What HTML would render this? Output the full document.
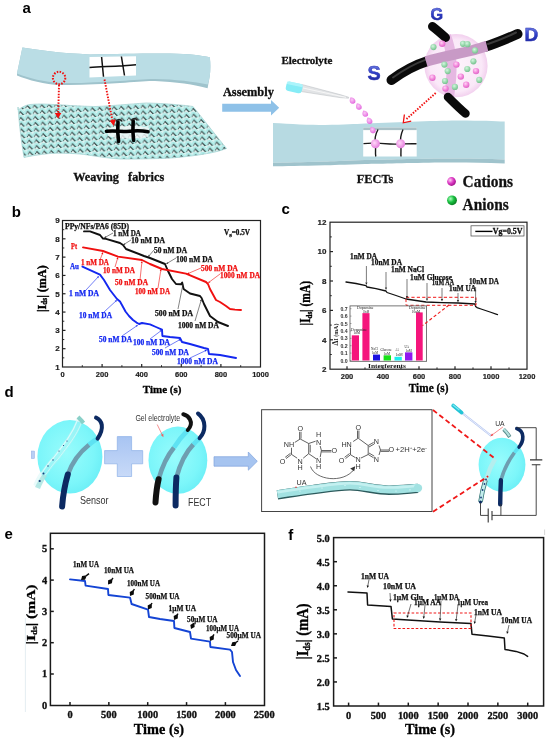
<!DOCTYPE html><html><head><meta charset="utf-8"><style>html,body{margin:0;padding:0;background:#fff;}svg{display:block;}</style></head><body>
<svg width="550" height="744" viewBox="0 0 550 744">
<rect width="550" height="744" fill="#fff"/>
<defs>
<pattern id="knit" width="7.2" height="5.8" patternUnits="userSpaceOnUse" patternTransform="rotate(-3)">
<rect width="7.2" height="5.8" fill="#e0f2f0"/>
<path d="M0.3,2.3 L3.1,5.5" stroke="#243030" stroke-width="1.6" stroke-linecap="round"/>
<path d="M0.9,0.8 L4.0,4.3" stroke="#a4e6e2" stroke-width="2.6" stroke-linecap="round"/>
<path d="M7.0,2.3 L5.6,4.5" stroke="#3a4848" stroke-width="1.1" stroke-linecap="round"/>
<path d="M6.5,0.7 L4.7,3.6" stroke="#b2ebe8" stroke-width="2.3" stroke-linecap="round"/>
<path d="M1.1,0.3 L3.9,3.4" stroke="#f0ffff" stroke-width="0.5"/>
</pattern>
<radialGradient id="pinkball" cx="0.35" cy="0.35" r="0.7"><stop offset="0" stop-color="#ffd0f4"/><stop offset="0.5" stop-color="#e040c8"/><stop offset="1" stop-color="#a0108a"/></radialGradient>
<radialGradient id="greenball" cx="0.35" cy="0.35" r="0.7"><stop offset="0" stop-color="#b0ffc0"/><stop offset="0.5" stop-color="#18c040"/><stop offset="1" stop-color="#0a7a20"/></radialGradient>
<radialGradient id="gb2" cx="0.4" cy="0.35" r="0.65"><stop offset="0" stop-color="#d4f6e0"/><stop offset="0.6" stop-color="#98d8ac"/><stop offset="1" stop-color="#78c090"/></radialGradient>
<radialGradient id="pb2" cx="0.4" cy="0.35" r="0.65"><stop offset="0" stop-color="#ffd4f6"/><stop offset="0.6" stop-color="#f286da"/><stop offset="1" stop-color="#e066c8"/></radialGradient>
<radialGradient id="pdrop2" cx="0.4" cy="0.4" r="0.7"><stop offset="0" stop-color="#fbc8f6"/><stop offset="1" stop-color="#e060dc"/></radialGradient>
<radialGradient id="pdrop" cx="0.4" cy="0.4" r="0.7"><stop offset="0" stop-color="#ffd8f8"/><stop offset="1" stop-color="#e070d8"/></radialGradient>
<radialGradient id="gsph" cx="0.5" cy="0.5" r="0.5"><stop offset="0" stop-color="#fdf4fc"/><stop offset="0.82" stop-color="#fae8f8"/><stop offset="1" stop-color="#f2d0ee"/></radialGradient>
<linearGradient id="sdlet" x1="0" y1="0" x2="0" y2="1"><stop offset="0" stop-color="#8a9cf0"/><stop offset="0.5" stop-color="#3040c8"/><stop offset="1" stop-color="#1a2490"/></linearGradient>
</defs>
<path d="M22.4,47.6 C40,50 60,53.5 90,54.4 C120,54 150,53.2 170,53.6 C190,54 200,55.5 209.8,57.2 C210.6,63 210.6,70 209.8,76 L207.6,88.2 C195,84.6 175,81.8 155,81 C145,80.8 135,82 120,83 C100,84 80,85.4 60,84.9 C45,84.4 28,80 17,75.4 L17,73.6 Z" fill="#9fc3cc"/>
<path d="M22.4,47.6 C40,50 60,53.5 90,54.4 C120,54 150,53.2 170,53.6 C190,54 200,55.5 209.8,57.2 C210.6,63 210.6,70 209.8,76 C209.3,79 208.6,82 207.6,84.6 C195,81.5 175,79.3 155,78.9 C145,78.8 135,80 120,81 C100,82 80,83.5 60,83 C45,82.5 28,78 17,73.6 Z" fill="#badde5"/>
<polygon points="89.5,57.1 136,56.2 136,75.5 89.5,77.4" fill="#fff"/>
<path d="M89.5,67.6 C105,66.6 120,66 136,64.7 M101.6,57 L103.5,76.8 M121.4,56.5 L124.5,75.5" stroke="#111" stroke-width="1.5" fill="none"/>
<path d="M18,110 C22,107 26,105 30,104.5 C36,104 40,104 43,104 C55,104.5 65,105 70,105.5 C80,106 90,106.5 96,106.5 C110,106 130,104 146,103 C160,103.3 170,104 180,105 C186,105.5 190,106 193,106.5 L226.5,148.5 C217,152 210,153 204.6,154 C190,156.5 170,158.5 157,158.6 C140,159 130,159.3 120,159 C100,157.5 90,155 80,154 C65,153 55,153 50,153.5 C40,154.5 30,156 24,157.5 C21,140 19,122 18,107 Z" fill="url(#knit)"/>
<path d="M18,110 C22,107 26,105 30,104.5 C36,104 40,104 43,104 C55,104.5 65,105 70,105.5 C80,106 90,106.5 96,106.5 C110,106 130,104 146,103 C160,103.3 170,104 180,105 C186,105.5 190,106 193,106.5 L226.5,148.5 C217,152 210,153 204.6,154 C190,156.5 170,158.5 157,158.6 C140,159 130,159.3 120,159 C100,157.5 90,155 80,154 C65,153 55,153 50,153.5 C40,154.5 30,156 24,157.5 C21,140 19,122 18,107 Z" fill="none" stroke="#a8d6d6" stroke-width="0.8"/>
<path d="M108,128 C115,126 140,125 149,128 L148,137 C140,139 115,139 108,136 Z" fill="#f4f8f8" opacity="0.8"/>
<g stroke="#000" stroke-linecap="round" fill="none"><path d="M106.5,131.3 C115,130 125,132.5 133,131 C139,130.2 144,131 148,131.8" stroke-width="3.6"/><path d="M118,122 C117.5,128 117.6,135 118.6,141.4" stroke-width="3.6"/><path d="M133.2,121 C132.7,127 132.8,134 133.6,140.4" stroke-width="3.6"/></g>
<path d="M116,121.5 C117,119 121,118.8 122,121.5 M131.4,120.5 C132.4,118 136.4,117.8 137.4,120.5" stroke="#222" stroke-width="1.8" fill="none"/>
<circle cx="59.1" cy="78" r="6.2" fill="none" stroke="#f01010" stroke-width="2" stroke-dasharray="1.5,1.4"/>
<path d="M59,85 L58.2,114" stroke="#f01010" stroke-width="1.9" fill="none" stroke-dasharray="1.5,1.4"/>
<polygon points="54.8,113 61.4,113 58.1,118.5" fill="#f01010"/>
<path d="M104.5,79.5 L112.5,121" stroke="#f01010" stroke-width="1.9" fill="none" stroke-dasharray="1.5,1.4"/>
<polygon points="109.6,120.5 115.8,119.4 113.8,126" fill="#f01010"/>
<text x="73.2" y="180.6" font-family="'Liberation Serif', 'Times New Roman', serif" font-size="12.4" font-weight="bold" fill="#111" text-anchor="start" textLength="91" lengthAdjust="spacingAndGlyphs" stroke="#111" stroke-width="0.3">Weaving&#160;&#160;&#160;fabrics</text>
<text x="222.9" y="95.6" font-family="'Liberation Serif', 'Times New Roman', serif" font-size="12" font-weight="bold" fill="#111" text-anchor="start" textLength="51" lengthAdjust="spacingAndGlyphs" stroke="#111" stroke-width="0.3">Assembly</text>
<polygon points="222.2,103.8 271,103.8 271,100 279.2,107.7 271,115.5 271,111.7 222.2,111.7" fill="#8ec1e8"/>
<path d="M273,123 C290,124 310,125 325,125 C345,125 355,124 365,123.6 C400,122 440,120.5 460,120.5 C480,120.6 495,121 504.7,121.6 L504.7,159.5 C480,158.5 460,158.3 440,158.6 C410,159 380,160 365,160 C345,160.5 330,161.5 325,161.5 C300,162.3 285,162.5 273,162.8 Z" fill="#b7dae2"/>
<path d="M273,162.8 C285,162.5 300,162.3 325,161.5 C330,161.5 345,160.5 365,160 C380,160 410,159 440,158.6 C460,158.3 480,158.5 504.7,159.5 L504.7,163.6 C480,162.6 460,162.3 440,162.6 C410,163 380,164 365,164 C345,164.5 330,165.3 325,165.3 C300,166 285,166.2 273,166.3 Z" fill="#9fc3cc"/>
<rect x="363.2" y="127.5" width="53.5" height="29" fill="#fff"/>
<rect x="363.2" y="127.5" width="53.5" height="2.6" fill="#a9c0c6"/>
<g stroke="#1a1a1a" stroke-width="1.4" fill="none"><path d="M363.5,143.6 C370,142.8 380,143.2 390,144 C398,144.5 408,143.4 416.5,143.8"/><path d="M378,129.5 C375.5,134 374.5,139 375.4,144 C376,149 375,153 375.8,156.5"/><path d="M403,129.5 C401,134 400,139 400.8,144 C401.4,149 400.6,153 401,156.5"/></g>
<circle cx="375.4" cy="143.8" r="4.5" fill="url(#pdrop)"/><circle cx="400.6" cy="143.8" r="4.5" fill="url(#pdrop)"/>
<text x="356.8" y="183.4" font-family="'Liberation Serif', 'Times New Roman', serif" font-size="12.8" font-weight="bold" fill="#111" text-anchor="start" textLength="36.5" lengthAdjust="spacingAndGlyphs" stroke="#111" stroke-width="0.3">FECTs</text>
<text x="281.4" y="63.6" font-family="'Liberation Serif', 'Times New Roman', serif" font-size="11" font-weight="bold" fill="#111" text-anchor="start" textLength="51" lengthAdjust="spacingAndGlyphs" stroke="#111" stroke-width="0.3">Electrolyte</text>
<polygon points="301.5,84.4 340,94.6 348.6,97.2 348.6,98.2 340,97.6 301.5,91.6" fill="#e2e4e6" stroke="#b4b8bc" stroke-width="0.5"/>
<path d="M303,88 L346,97.4" stroke="#f8f8f8" stroke-width="0.9"/>
<g transform="rotate(12 294 87.3)"><rect x="286" y="82.6" width="16.4" height="9.6" rx="3.2" fill="#86ecf6"/><rect x="286" y="82.6" width="16.4" height="3" rx="1.5" fill="#b4f6fc" opacity="0.8"/></g>
<path transform="translate(352.7,100.6) scale(1.3)" d="M-1.6,-2.6 C1,-2.4 2.6,-0.5 2,1.2 C1.4,2.8 -1.6,2.8 -2.2,0.8 C-2.6,-0.6 -2,-1.6 -1.6,-2.6 Z" fill="url(#pdrop2)"/>
<path transform="translate(359,106.7) scale(1.3)" d="M-1.6,-2.6 C1,-2.4 2.6,-0.5 2,1.2 C1.4,2.8 -1.6,2.8 -2.2,0.8 C-2.6,-0.6 -2,-1.6 -1.6,-2.6 Z" fill="url(#pdrop2)"/>
<path transform="translate(365.4,113.8) scale(1.3)" d="M-1.6,-2.6 C1,-2.4 2.6,-0.5 2,1.2 C1.4,2.8 -1.6,2.8 -2.2,0.8 C-2.6,-0.6 -2,-1.6 -1.6,-2.6 Z" fill="url(#pdrop2)"/>
<path transform="translate(369.7,121) scale(1.3)" d="M-1.6,-2.6 C1,-2.4 2.6,-0.5 2,1.2 C1.4,2.8 -1.6,2.8 -2.2,0.8 C-2.6,-0.6 -2,-1.6 -1.6,-2.6 Z" fill="url(#pdrop2)"/>
<path transform="translate(373,130.2) scale(1.3)" d="M-1.6,-2.6 C1,-2.4 2.6,-0.5 2,1.2 C1.4,2.8 -1.6,2.8 -2.2,0.8 C-2.6,-0.6 -2,-1.6 -1.6,-2.6 Z" fill="url(#pdrop2)"/>
<circle cx="456" cy="65.7" r="31.6" fill="url(#gsph)"/>
<path d="M446,36 C452,50 453,72 449,97" stroke="#e6b8e2" stroke-width="10" fill="none"/>
<path d="M432.5,26.5 C437,30 441,33.5 445.5,37.5" stroke="#0a0a0a" stroke-width="9" stroke-linecap="round" fill="none"/>
<path d="M448,97 C454,103 460,109 465.5,113.5" stroke="#0a0a0a" stroke-width="8.5" stroke-linecap="round" fill="none"/>
<path d="M391.5,80 C399,74.5 412,66 427,61.3" stroke="#0a0a0a" stroke-width="10" stroke-linecap="round" fill="none"/>
<path d="M486,46.5 C495,43.5 505,39.5 517.5,34" stroke="#0a0a0a" stroke-width="10" stroke-linecap="round" fill="none"/>
<path d="M393,77.5 C400,72.5 412,64.5 426,59.6" stroke="#3a3a3a" stroke-width="2" stroke-linecap="round" fill="none"/>
<path d="M488,44 C497,41 506,37.5 516,32.5" stroke="#3a3a3a" stroke-width="2" stroke-linecap="round" fill="none"/>
<path d="M426,61.5 C440,57.5 455,54.5 470,51 C476,49.5 482,47.5 487,46.2" stroke="#c89ac6" stroke-width="10.5" fill="none"/>
<circle cx="433.5" cy="47.1" r="3.1" fill="url(#gb2)"/>
<circle cx="463" cy="43.8" r="3.1" fill="url(#gb2)"/>
<circle cx="475" cy="50.4" r="3.1" fill="url(#gb2)"/>
<circle cx="444.4" cy="64.6" r="3.1" fill="url(#gb2)"/>
<circle cx="447.7" cy="71.1" r="3.1" fill="url(#gb2)"/>
<circle cx="473.4" cy="61.3" r="3.1" fill="url(#gb2)"/>
<circle cx="467.3" cy="69" r="3.1" fill="url(#gb2)"/>
<circle cx="479.3" cy="79.9" r="3.1" fill="url(#gb2)"/>
<circle cx="445" cy="81" r="3.1" fill="url(#gb2)"/>
<circle cx="454.9" cy="86.9" r="3.1" fill="url(#gb2)"/>
<circle cx="467.5" cy="44.2" r="3.1" fill="url(#gb2)"/>
<circle cx="442.2" cy="43.8" r="3.2" fill="url(#pb2)"/>
<circle cx="456.4" cy="64.6" r="3.2" fill="url(#pb2)"/>
<circle cx="476" cy="71.1" r="3.2" fill="url(#pb2)"/>
<circle cx="432.4" cy="77.7" r="3.2" fill="url(#pb2)"/>
<circle cx="460.8" cy="76.6" r="3.2" fill="url(#pb2)"/>
<circle cx="466.2" cy="84.7" r="3.2" fill="url(#pb2)"/>
<circle cx="445.5" cy="88.6" r="3.2" fill="url(#pb2)"/>
<text x="430.6" y="20" font-family="'Liberation Sans', Arial, sans-serif" font-size="16.2" font-weight="bold" fill="url(#sdlet)" stroke="#2a30b0" stroke-width="0.5">G</text>
<text x="524.6" y="41.2" font-family="'Liberation Sans', Arial, sans-serif" font-size="19" font-weight="bold" fill="url(#sdlet)" stroke="#2a30b0" stroke-width="0.5">D</text>
<text x="367.6" y="79.6" font-family="'Liberation Sans', Arial, sans-serif" font-size="19.8" font-weight="bold" fill="url(#sdlet)" stroke="#2a30b0" stroke-width="0.5">S</text>
<path d="M435.7,93 L406.5,119" stroke="#f01010" stroke-width="1.9" fill="none" stroke-dasharray="1.5,1.4"/>
<path d="M404.4,114.5 L403.3,122.8 L411.2,121.2" stroke="#f01010" stroke-width="1.3" fill="none"/>
<circle cx="451.5" cy="181.5" r="4.4" fill="url(#pinkball)"/>
<circle cx="452" cy="200.3" r="4.9" fill="url(#greenball)"/>
<text x="462.6" y="187.2" font-family="'Liberation Serif', 'Times New Roman', serif" font-size="16" font-weight="bold" fill="#111" text-anchor="start" textLength="50.4" lengthAdjust="spacingAndGlyphs" stroke="#111" stroke-width="0.3">Cations</text>
<text x="462.6" y="210" font-family="'Liberation Serif', 'Times New Roman', serif" font-size="16" font-weight="bold" fill="#111" text-anchor="start" textLength="46.2" lengthAdjust="spacingAndGlyphs" stroke="#111" stroke-width="0.3">Anions</text>
<defs>
<radialGradient id="cyansph" cx="0.45" cy="0.45" r="0.6"><stop offset="0" stop-color="#98fcfc"/><stop offset="0.7" stop-color="#7cf6fa"/><stop offset="1" stop-color="#6aeef6"/></radialGradient>
<linearGradient id="plusg" x1="0" y1="0" x2="0" y2="1"><stop offset="0" stop-color="#a8c4f2"/><stop offset="1" stop-color="#c8daf8"/></linearGradient>
</defs>
<ellipse cx="69.9" cy="456.8" rx="32.5" ry="36.7" fill="url(#cyansph)"/>
<path d="M36.6,486 C39,480 42,475 45,471.8 C49,466 52,462 56,458 C61,451.5 66,445 69.8,439.4 C73.5,434 77,428 80.6,418.5" stroke="#c4f2f0" stroke-width="7" fill="none" opacity="0.35"/>
<path d="M36.6,486 C39,480 42,475 45,471.8 C49,466 52,462 56,458 C61,451.5 66,445 69.8,439.4 C73.5,434 77,428 80.6,418.5" stroke="#e8fcfc" stroke-width="1.2" fill="none" opacity="0.8" transform="translate(-2.2,-0.5)"/>
<path d="M36.6,486 C39,480 42,475 45,471.8 C49,466 52,462 56,458 C61,451.5 66,445 69.8,439.4 C73.5,434 77,428 80.6,418.5" stroke="#e8fcfc" stroke-width="1.0" fill="none" opacity="0.6" transform="translate(2.2,0.8)"/>
<path d="M35,487 C37.5,482 40,478 43,473.5 L47,476 C44,480 42,484 40,489 Z" fill="#a8e4e0" opacity="0.8"/>
<circle cx="39.7" cy="481" r="1.1" fill="#1a3a7a"/>
<circle cx="43.5" cy="473.4" r="1.0" fill="#1a3a7a"/>
<circle cx="48" cy="466" r="0.7" fill="#1a3a7a"/>
<circle cx="53" cy="460" r="0.7" fill="#1a3a7a"/>
<circle cx="59" cy="451" r="0.6" fill="#1a3a7a"/>
<circle cx="63.5" cy="445.5" r="0.6" fill="#1a3a7a"/>
<circle cx="67" cy="441" r="0.6" fill="#1a3a7a"/>
<path d="M78,417 C80,419 82,421 83.5,423" stroke="#8ad0c8" stroke-width="4" fill="none"/>
<path d="M67.8,474.5 C72,463 80,452 89.1,444.8" stroke="#6e9eb0" stroke-width="4.6" stroke-linecap="butt" fill="none"/>
<path d="M89,444.8 C92,442 95,440 97.6,438.6" stroke="#5ee2f2" stroke-width="4.6" stroke-linecap="butt" fill="none"/>
<path d="M62.1,506.6 C63,495 65,484 67.8,474.5" stroke="#0c2a62" stroke-width="6" stroke-linecap="round" fill="none"/>
<path d="M97.6,438.6 C100,435 102.5,430 101.8,425 C101,421 99,419 96,417.7" stroke="#0c2a62" stroke-width="4" stroke-linecap="round" fill="none"/>
<rect x="31.2" y="451" width="3.4" height="7.7" fill="#b8cff4" stroke="#8aa8e0" stroke-width="0.4"/>
<text x="79.9" y="504.3" font-family="'Liberation Sans', Arial, sans-serif" font-size="10.6" fill="#333" textLength="28.6" lengthAdjust="spacingAndGlyphs">Sensor</text>
<path d="M117.3,436.6 L131.6,436.6 L131.6,450.6 L142.7,450.6 L142.7,463.8 L131.6,463.8 L131.6,476.5 L117.3,476.5 L117.3,463.8 L104.6,463.8 L104.6,450.6 L117.3,450.6 Z" fill="url(#plusg)" stroke="#8cb0e8" stroke-width="0.7"/>
<ellipse cx="177.9" cy="460.2" rx="29.4" ry="33.6" fill="url(#cyansph)"/>
<path d="M158.6,479.2 C162,467 167,456 174,447.5" stroke="#6e9eb0" stroke-width="4.6" stroke-linecap="butt" fill="none"/>
<path d="M174,447.5 C178,441 183,435 187.6,430.5" stroke="#5ee2f2" stroke-width="4.6" stroke-linecap="butt" fill="none"/>
<path d="M155.5,502.4 C156,494 157,486 158.6,479.2" stroke="#111" stroke-width="6" stroke-linecap="round" fill="none"/>
<path d="M187.8,430 C190.5,427 192,423.5 190,419.5 C188.5,416.5 186,415 183.3,414.3" stroke="#111" stroke-width="4" stroke-linecap="round" fill="none"/>
<path d="M176.4,477.6 C180,464 186,452 193.4,444.4" stroke="#6e9eb0" stroke-width="4.6" stroke-linecap="butt" fill="none"/>
<path d="M193.4,444.4 C195.5,442 197.5,440 199.6,438.2" stroke="#5ee2f2" stroke-width="4.6" stroke-linecap="butt" fill="none"/>
<path d="M175.6,505.5 C175.6,496 175.8,486 176.4,477.6" stroke="#0c2a62" stroke-width="6" stroke-linecap="round" fill="none"/>
<path d="M199.6,438.2 C202.5,435 204.5,431 204.4,426 C204.2,421 201.5,416 198,413.5" stroke="#0c2a62" stroke-width="4" stroke-linecap="round" fill="none"/>
<text x="135.4" y="421" font-family="'Liberation Sans', Arial, sans-serif" font-size="8.4" fill="#333" textLength="44.8" lengthAdjust="spacingAndGlyphs">Gel electrolyte</text>
<path d="M157.2,424.5 L162.6,435.6" stroke="#f06060" stroke-width="0.7"/><polygon points="163.4,437.2 160.9,434.9 163.3,433.8" fill="#f06060"/>
<text x="188" y="505.5" font-family="'Liberation Sans', Arial, sans-serif" font-size="10.6" fill="#333" textLength="23.1" lengthAdjust="spacingAndGlyphs">FECT</text>
<path d="M214,456.7 L248.3,456.7 L248.3,452 L257.3,461.3 L248.3,470.2 L248.3,466.2 L214,466.2 Z" fill="#a6c4f0" stroke="#7fa4dc" stroke-width="0.7"/>
<rect x="261.6" y="409.7" width="170.4" height="101.8" fill="#fff" stroke="#444" stroke-width="1"/>
<path d="M299.6,431.8 L299.6,439 M301,431.8 L301,438.6 M300.2,439 L294.8,442.4 M291.5,447.8 L291.5,454.4 L286,458.6 M290.6,453.2 L285.2,457.3 M291.5,454.4 L297.2,458.2 M303.2,458.2 L308.7,453.7 L308.7,443.5 L300.2,439 M310.2,452.4 L310.2,444.8 M308.7,443.5 L315.6,441.2 M320.2,446 L321.4,450.5 L320.2,457.2 M316.2,458.8 L308.7,453.7 M321.4,450.5 L331.4,450.5 M321.4,451.9 L331.4,451.9" stroke="#3a3a3a" stroke-width="0.8" fill="none"/>
<text x="300.2" y="430.8" font-family="'Liberation Sans', Arial, sans-serif" font-size="7.2" fill="#333" text-anchor="middle">O</text>
<text x="289" y="447.4" font-family="'Liberation Sans', Arial, sans-serif" font-size="7.2" fill="#333" text-anchor="middle">NH</text>
<text x="282.6" y="464.4" font-family="'Liberation Sans', Arial, sans-serif" font-size="7.2" fill="#333" text-anchor="middle">O</text>
<text x="300.2" y="463.9" font-family="'Liberation Sans', Arial, sans-serif" font-size="7.2" fill="#333" text-anchor="middle">N</text>
<text x="300.2" y="470.3" font-family="'Liberation Sans', Arial, sans-serif" font-size="7.2" fill="#333" text-anchor="middle">H</text>
<text x="318.5" y="444.8" font-family="'Liberation Sans', Arial, sans-serif" font-size="7.2" fill="#333" text-anchor="middle">N</text>
<text x="318.5" y="436.5" font-family="'Liberation Sans', Arial, sans-serif" font-size="7.2" fill="#333" text-anchor="middle">H</text>
<text x="334.4" y="453.3" font-family="'Liberation Sans', Arial, sans-serif" font-size="7.2" fill="#333" text-anchor="middle">O</text>
<text x="318.5" y="462.6" font-family="'Liberation Sans', Arial, sans-serif" font-size="7.2" fill="#333" text-anchor="middle">N</text>
<text x="318.5" y="469" font-family="'Liberation Sans', Arial, sans-serif" font-size="7.2" fill="#333" text-anchor="middle">H</text>
<path d="M357.5,430.5 L357.5,438 M358.9,430.5 L358.9,438 M358.2,438.2 L353.2,441.5 M350.5,447.5 L350.5,454.7 L345.5,458.6 M349.6,453.5 L344.6,457.3 M350.5,454.7 L355.6,457.8 M361,458 L368.2,454.5 L368.2,445.5 L358.2,438.2 M368.2,445.5 L373.6,442.4 M369,447 L374.3,443.9 M379,445.5 L380.5,450 L379,455 M368.2,454.5 L373.6,457.8 M369,453 L374.3,456.2 M380.5,450 L389,450 M380.5,451.4 L389,451.4" stroke="#3a3a3a" stroke-width="0.8" fill="none"/>
<text x="358.2" y="429.6" font-family="'Liberation Sans', Arial, sans-serif" font-size="7.2" fill="#333" text-anchor="middle">O</text>
<text x="346.6" y="447" font-family="'Liberation Sans', Arial, sans-serif" font-size="7.2" fill="#333" text-anchor="middle">HN</text>
<text x="341.6" y="463.4" font-family="'Liberation Sans', Arial, sans-serif" font-size="7.2" fill="#333" text-anchor="middle">O</text>
<text x="358.2" y="462.3" font-family="'Liberation Sans', Arial, sans-serif" font-size="7.2" fill="#333" text-anchor="middle">N</text>
<text x="358.2" y="468.6" font-family="'Liberation Sans', Arial, sans-serif" font-size="7.2" fill="#333" text-anchor="middle">H</text>
<text x="376.4" y="444.1" font-family="'Liberation Sans', Arial, sans-serif" font-size="7.2" fill="#333" text-anchor="middle">N</text>
<text x="391.3" y="452.4" font-family="'Liberation Sans', Arial, sans-serif" font-size="7.2" fill="#333" text-anchor="middle">O</text>
<text x="376.4" y="462.3" font-family="'Liberation Sans', Arial, sans-serif" font-size="7.2" fill="#333" text-anchor="middle">N</text>
<text x="395.5" y="452.2" font-family="'Liberation Sans', Arial, sans-serif" font-size="7.4" fill="#333" textLength="31.3" lengthAdjust="spacingAndGlyphs">+2H<tspan font-size="4.4" dy="-2.8">+</tspan><tspan dy="2.8">+2e</tspan><tspan font-size="4.4" dy="-2.8">-</tspan></text>
<path d="M310.5,466.5 C315,480 343,484 354,469.5" stroke="#444" stroke-width="0.8" fill="none"/>
<polygon points="355.2,466.3 350.2,468.6 354.2,471.2" fill="#333"/>
<path d="M277.4,494.2 C292,492 300,490.6 311.4,489.2 C325,487.5 338,485.2 350,485.2 C363,485.4 376,489.6 389,489.6 C400,489.6 410,488.3 418,487.8" stroke="#2c5a5c" stroke-width="9.4" fill="none" transform="translate(0,0.6)"/>
<path d="M277.4,494.2 C292,492 300,490.6 311.4,489.2 C325,487.5 338,485.2 350,485.2 C363,485.4 376,489.6 389,489.6 C400,489.6 410,488.3 418,487.8" stroke="#a2e2e2" stroke-width="8" fill="none"/>
<path d="M277.4,494.2 C292,492 300,490.6 311.4,489.2 C325,487.5 338,485.2 350,485.2 C363,485.4 376,489.6 389,489.6 C400,489.6 410,488.3 418,487.8" stroke="#c4f0f0" stroke-width="2.5" fill="none" transform="translate(0,-2)"/>
<circle cx="418" cy="488.1" r="4.2" fill="#a2e2e2"/>
<circle cx="300" cy="491" r="0.6" fill="#eaffff"/>
<circle cx="322" cy="488" r="0.6" fill="#eaffff"/>
<circle cx="345" cy="485.5" r="0.6" fill="#eaffff"/>
<circle cx="360" cy="487.5" r="0.6" fill="#eaffff"/>
<circle cx="378" cy="490.5" r="0.6" fill="#eaffff"/>
<circle cx="396" cy="491" r="0.6" fill="#eaffff"/>
<circle cx="410" cy="489.8" r="0.6" fill="#eaffff"/>
<text x="296.6" y="485.3" font-family="'Liberation Sans', Arial, sans-serif" font-size="7.2" fill="#333">UA</text>
<circle cx="296" cy="487.3" r="0.7" fill="#f02020"/>
<ellipse cx="502" cy="464.8" rx="23.4" ry="27" fill="url(#cyansph)"/>
<path d="M480.5,501.5 C482,493 484,485 487,477 C489,470 492,464 495,459" stroke="#b8ecec" stroke-width="4.4" fill="none" opacity="0.9"/>
<path d="M480.5,502 C481.5,495 483,488 485.5,480" stroke="#3a7474" stroke-width="4.6" fill="none"/>
<path d="M480.5,502 C481.5,495 483,488 485.5,480" stroke="#c4eeee" stroke-width="3" fill="none"/>
<circle cx="481" cy="497.5" r="0.9" fill="#1a3a7a"/>
<circle cx="482.6" cy="490" r="0.9" fill="#1a3a7a"/>
<circle cx="484.5" cy="484" r="0.9" fill="#1a3a7a"/>
<circle cx="486" cy="479.5" r="0.9" fill="#1a3a7a"/>
<circle cx="480.5" cy="502" r="1.6" fill="#0c2a62"/>
<path d="M503.6,429.3 C506,431.5 508,434 509.8,437" stroke="#5a8c8c" stroke-width="3.6" fill="none"/>
<path d="M503.4,428.8 C505.8,431 507.8,433.5 509.4,436.2" stroke="#b4e0de" stroke-width="2.2" fill="none"/>
<path d="M500.9,480.3 C504,469 509,460 514.5,452.5" stroke="#6e9eb0" stroke-width="3.6" stroke-linecap="butt" fill="none"/>
<path d="M514.5,452.5 C516,450.5 517.5,448.8 519.1,447" stroke="#5ee2f2" stroke-width="3.6" stroke-linecap="butt" fill="none"/>
<path d="M500.2,504.2 C500.3,496 500.5,488 500.9,480.3" stroke="#0c2a62" stroke-width="4.4" stroke-linecap="round" fill="none"/>
<path d="M519.1,447 C521.5,444 523,440.5 522.8,436.5 C522.5,432 520,429.5 516.8,428.5" stroke="#0c2a62" stroke-width="3.6" stroke-linecap="round" fill="none"/>
<path d="M433,410 L495.2,458.8" stroke="#f01818" stroke-width="1.8" stroke-dasharray="5,3" fill="none"/>
<path d="M433,511.7 L488.2,476.2" stroke="#f01818" stroke-width="1.8" stroke-dasharray="5,3" fill="none"/>
<path d="M516.8,427.7 L536.2,427.7 L536.2,459.9 M536.2,464.8 L536.2,515.4 L492,515.4 M488.2,515.4 L480.5,515.4 L480.5,503 M500.9,504 L500.9,515.4" stroke="#333" stroke-width="0.9" fill="none"/>
<path d="M530,459.9 L542.3,459.9 M531.8,464.8 L540.4,464.8" stroke="#333" stroke-width="1.1"/>
<path d="M488.2,508.6 L488.2,522.6 M492,511 L492,520.3" stroke="#333" stroke-width="1.1"/>
<path d="M544.6,529.5 L544.6,535" stroke="#bbb" stroke-width="0.6"/>
<path d="M461.5,412.5 L490.8,435.5" stroke="#b4c6f0" stroke-width="2" stroke-linecap="round"/>
<path d="M461.5,412.5 L490.8,435.5" stroke="#f6f8ff" stroke-width="0.8"/>
<path d="M453.2,405.6 L461.6,412.6" stroke="#22c4d6" stroke-width="3.8" stroke-linecap="round"/>
<path d="M453,405 L459,409.8" stroke="#7ee8f4" stroke-width="1.2" stroke-linecap="round"/>
<text x="495.2" y="426.1" font-family="'Liberation Sans', Arial, sans-serif" font-size="6.8" fill="#333">UA</text>
<path d="M502.9,427 L491.2,435.6" stroke="#f04040" stroke-width="0.6"/><polygon points="490.3,436.3 492.1,433.6 493.3,435.3" fill="#f04040"/>
<rect x="62.5" y="220.5" width="198.0" height="146.5" fill="none" stroke="#222" stroke-width="1.2"/>
<line x1="102.1" y1="367" x2="102.1" y2="364" stroke="#222" stroke-width="1.2" />
<line x1="141.7" y1="367" x2="141.7" y2="364" stroke="#222" stroke-width="1.2" />
<line x1="181.3" y1="367" x2="181.3" y2="364" stroke="#222" stroke-width="1.2" />
<line x1="220.9" y1="367" x2="220.9" y2="364" stroke="#222" stroke-width="1.2" />
<line x1="62.5" y1="348.6875" x2="65.5" y2="348.6875" stroke="#222" stroke-width="1.2" />
<line x1="62.5" y1="330.375" x2="65.5" y2="330.375" stroke="#222" stroke-width="1.2" />
<line x1="62.5" y1="312.0625" x2="65.5" y2="312.0625" stroke="#222" stroke-width="1.2" />
<line x1="62.5" y1="293.75" x2="65.5" y2="293.75" stroke="#222" stroke-width="1.2" />
<line x1="62.5" y1="275.4375" x2="65.5" y2="275.4375" stroke="#222" stroke-width="1.2" />
<line x1="62.5" y1="257.125" x2="65.5" y2="257.125" stroke="#222" stroke-width="1.2" />
<line x1="62.5" y1="238.8125" x2="65.5" y2="238.8125" stroke="#222" stroke-width="1.2" />
<line x1="82.3" y1="367" x2="82.3" y2="365.2" stroke="#222" stroke-width="0.96" />
<line x1="121.9" y1="367" x2="121.9" y2="365.2" stroke="#222" stroke-width="0.96" />
<line x1="161.5" y1="367" x2="161.5" y2="365.2" stroke="#222" stroke-width="0.96" />
<line x1="201.1" y1="367" x2="201.1" y2="365.2" stroke="#222" stroke-width="0.96" />
<line x1="240.7" y1="367" x2="240.7" y2="365.2" stroke="#222" stroke-width="0.96" />
<line x1="62.5" y1="357.84375" x2="64.3" y2="357.84375" stroke="#222" stroke-width="0.96" />
<line x1="62.5" y1="339.53125" x2="64.3" y2="339.53125" stroke="#222" stroke-width="0.96" />
<line x1="62.5" y1="321.21875" x2="64.3" y2="321.21875" stroke="#222" stroke-width="0.96" />
<line x1="62.5" y1="302.90625" x2="64.3" y2="302.90625" stroke="#222" stroke-width="0.96" />
<line x1="62.5" y1="284.59375" x2="64.3" y2="284.59375" stroke="#222" stroke-width="0.96" />
<line x1="62.5" y1="266.28125" x2="64.3" y2="266.28125" stroke="#222" stroke-width="0.96" />
<line x1="62.5" y1="247.96875" x2="64.3" y2="247.96875" stroke="#222" stroke-width="0.96" />
<line x1="62.5" y1="229.65625" x2="64.3" y2="229.65625" stroke="#222" stroke-width="0.96" />
<text x="59.8" y="369.8" font-family="'Liberation Sans', Arial, sans-serif" font-size="8" font-weight="bold" fill="#222" text-anchor="end"  stroke="#222" stroke-width="0.2">1</text>
<text x="59.8" y="351.4875" font-family="'Liberation Sans', Arial, sans-serif" font-size="8" font-weight="bold" fill="#222" text-anchor="end"  stroke="#222" stroke-width="0.2">2</text>
<text x="59.8" y="333.175" font-family="'Liberation Sans', Arial, sans-serif" font-size="8" font-weight="bold" fill="#222" text-anchor="end"  stroke="#222" stroke-width="0.2">3</text>
<text x="59.8" y="314.8625" font-family="'Liberation Sans', Arial, sans-serif" font-size="8" font-weight="bold" fill="#222" text-anchor="end"  stroke="#222" stroke-width="0.2">4</text>
<text x="59.8" y="296.55" font-family="'Liberation Sans', Arial, sans-serif" font-size="8" font-weight="bold" fill="#222" text-anchor="end"  stroke="#222" stroke-width="0.2">5</text>
<text x="59.8" y="278.2375" font-family="'Liberation Sans', Arial, sans-serif" font-size="8" font-weight="bold" fill="#222" text-anchor="end"  stroke="#222" stroke-width="0.2">6</text>
<text x="59.8" y="259.925" font-family="'Liberation Sans', Arial, sans-serif" font-size="8" font-weight="bold" fill="#222" text-anchor="end"  stroke="#222" stroke-width="0.2">7</text>
<text x="59.8" y="241.6125" font-family="'Liberation Sans', Arial, sans-serif" font-size="8" font-weight="bold" fill="#222" text-anchor="end"  stroke="#222" stroke-width="0.2">8</text>
<text x="59.8" y="223.3" font-family="'Liberation Sans', Arial, sans-serif" font-size="8" font-weight="bold" fill="#222" text-anchor="end"  stroke="#222" stroke-width="0.2">9</text>
<text x="62.5" y="376.8" font-family="'Liberation Sans', Arial, sans-serif" font-size="7.5" font-weight="bold" fill="#222" text-anchor="middle"  stroke="#222" stroke-width="0.2">0</text>
<text x="102.1" y="376.8" font-family="'Liberation Sans', Arial, sans-serif" font-size="7.5" font-weight="bold" fill="#222" text-anchor="middle"  stroke="#222" stroke-width="0.2">200</text>
<text x="141.7" y="376.8" font-family="'Liberation Sans', Arial, sans-serif" font-size="7.5" font-weight="bold" fill="#222" text-anchor="middle"  stroke="#222" stroke-width="0.2">400</text>
<text x="181.3" y="376.8" font-family="'Liberation Sans', Arial, sans-serif" font-size="7.5" font-weight="bold" fill="#222" text-anchor="middle"  stroke="#222" stroke-width="0.2">600</text>
<text x="220.9" y="376.8" font-family="'Liberation Sans', Arial, sans-serif" font-size="7.5" font-weight="bold" fill="#222" text-anchor="middle"  stroke="#222" stroke-width="0.2">800</text>
<text x="260.5" y="376.8" font-family="'Liberation Sans', Arial, sans-serif" font-size="7.5" font-weight="bold" fill="#222" text-anchor="middle"  stroke="#222" stroke-width="0.2">1000</text>
<text x="142.8" y="392.6" font-family="'Liberation Serif', 'Times New Roman', serif" font-size="11" font-weight="bold" fill="#000" text-anchor="start" textLength="38.6" lengthAdjust="spacingAndGlyphs" stroke="#000" stroke-width="0.3">Time (s)</text>
<text transform="translate(41.5,288.7) rotate(-90) scale(1,1.2)" x="0" y="0" text-anchor="middle" dominant-baseline="central" font-family="'Liberation Serif', 'Times New Roman', serif" font-size="11" font-weight="bold" fill="#000" stroke="#000" stroke-width="0.3" textLength="46.7" lengthAdjust="spacingAndGlyphs">|I<tspan font-size="6.6" dy="2.75">ds</tspan><tspan dy="-2.75">|</tspan> (mA)</text>
<polyline points="84,231.4 90,231.4 100,235 103,238.6 106,238.8 120,243 123,245 126,249 144,256 150,258 160,262 165,264 168,271 172,279 176,284 181,284.2 182.2,282.6 183.6,289 190,293.5 200,296 201.6,298 204,304 210,316 218,322 228,326" fill="none" stroke="#111" stroke-width="1.9" stroke-linejoin="round" stroke-linecap="round" />
<polyline points="83,247.4 103,251 118,256.6 142,260 150,264 162,269 186,273.6 206,282 208,284 210,289 216,300 220,302 226,306 230,309 235,309.6 241,310" fill="none" stroke="#f01010" stroke-width="1.9" stroke-linejoin="round" stroke-linecap="round" />
<polyline points="82.4,266.6 100,274.6 104,280 110,290 117,299 120,301.5 122.5,306 125.5,311.5 129,316 133,320 136.5,322.6 139,324 142,323 150,324.4 156,327 162,329.6 162.4,336 170,337 180,338 182,342 190,344 204,348 208,349 209,354 220,355 236,358" fill="none" stroke="#1428f0" stroke-width="1.9" stroke-linejoin="round" stroke-linecap="round" />
<text x="65" y="228.5" font-family="'Liberation Serif', 'Times New Roman', serif" font-size="7.2" font-weight="bold" fill="#111" text-anchor="start" textLength="64" lengthAdjust="spacingAndGlyphs" stroke="#111" stroke-width="0.25">PPy/NFs/PA6 (85D)</text>
<text x="224" y="234.5" font-family="'Liberation Serif', 'Times New Roman', serif" font-size="7.2" font-weight="bold" fill="#111" text-anchor="start"  stroke="#111" stroke-width="0.25">V<tspan font-size="5" dy="1.5">g</tspan><tspan dy="-1.5">=0.5V</tspan></text>
<text x="113" y="236.3" font-family="'Liberation Serif', 'Times New Roman', serif" font-size="7.2" font-weight="bold" fill="#111" text-anchor="start" textLength="28" lengthAdjust="spacingAndGlyphs" stroke="#111" stroke-width="0.25">1 nM DA</text>
<text x="131" y="243.3" font-family="'Liberation Serif', 'Times New Roman', serif" font-size="7.2" font-weight="bold" fill="#111" text-anchor="start" textLength="34" lengthAdjust="spacingAndGlyphs" stroke="#111" stroke-width="0.25">10 nM DA</text>
<text x="154" y="252.8" font-family="'Liberation Serif', 'Times New Roman', serif" font-size="7.2" font-weight="bold" fill="#111" text-anchor="start" textLength="33" lengthAdjust="spacingAndGlyphs" stroke="#111" stroke-width="0.25">50 nM DA</text>
<text x="176" y="261.8" font-family="'Liberation Serif', 'Times New Roman', serif" font-size="7.2" font-weight="bold" fill="#111" text-anchor="start" textLength="37" lengthAdjust="spacingAndGlyphs" stroke="#111" stroke-width="0.25">100 nM DA</text>
<text x="155" y="315.8" font-family="'Liberation Serif', 'Times New Roman', serif" font-size="7.2" font-weight="bold" fill="#111" text-anchor="start" textLength="38" lengthAdjust="spacingAndGlyphs" stroke="#111" stroke-width="0.25">500 nM DA</text>
<text x="178" y="327.8" font-family="'Liberation Serif', 'Times New Roman', serif" font-size="7.2" font-weight="bold" fill="#111" text-anchor="start" textLength="41" lengthAdjust="spacingAndGlyphs" stroke="#111" stroke-width="0.25">1000 nM DA</text>
<text x="71" y="249.4" font-family="'Liberation Serif', 'Times New Roman', serif" font-size="7.2" font-weight="bold" fill="#f01010" text-anchor="start" textLength="6" lengthAdjust="spacingAndGlyphs" stroke="#f01010" stroke-width="0.25">Pt</text>
<text x="81" y="265" font-family="'Liberation Serif', 'Times New Roman', serif" font-size="7.2" font-weight="bold" fill="#f01010" text-anchor="start" textLength="28" lengthAdjust="spacingAndGlyphs" stroke="#f01010" stroke-width="0.25">1 nM DA</text>
<text x="103" y="272.6" font-family="'Liberation Serif', 'Times New Roman', serif" font-size="7.2" font-weight="bold" fill="#f01010" text-anchor="start" textLength="32" lengthAdjust="spacingAndGlyphs" stroke="#f01010" stroke-width="0.25">10 nM DA</text>
<text x="115" y="285.4" font-family="'Liberation Serif', 'Times New Roman', serif" font-size="7.2" font-weight="bold" fill="#f01010" text-anchor="start" textLength="33" lengthAdjust="spacingAndGlyphs" stroke="#f01010" stroke-width="0.25">50 nM DA</text>
<text x="135" y="294" font-family="'Liberation Serif', 'Times New Roman', serif" font-size="7.2" font-weight="bold" fill="#f01010" text-anchor="start" textLength="35" lengthAdjust="spacingAndGlyphs" stroke="#f01010" stroke-width="0.25">100 nM DA</text>
<text x="201" y="271.4" font-family="'Liberation Serif', 'Times New Roman', serif" font-size="7.2" font-weight="bold" fill="#f01010" text-anchor="start" textLength="37" lengthAdjust="spacingAndGlyphs" stroke="#f01010" stroke-width="0.25">500 nM DA</text>
<text x="220" y="277.8" font-family="'Liberation Serif', 'Times New Roman', serif" font-size="7.2" font-weight="bold" fill="#f01010" text-anchor="start" textLength="40" lengthAdjust="spacingAndGlyphs" stroke="#f01010" stroke-width="0.25">1000 nM DA</text>
<text x="70" y="269" font-family="'Liberation Serif', 'Times New Roman', serif" font-size="7.2" font-weight="bold" fill="#1428f0" text-anchor="start" textLength="9" lengthAdjust="spacingAndGlyphs" stroke="#1428f0" stroke-width="0.25">Au</text>
<text x="69" y="295.6" font-family="'Liberation Serif', 'Times New Roman', serif" font-size="7.2" font-weight="bold" fill="#1428f0" text-anchor="start" textLength="30" lengthAdjust="spacingAndGlyphs" stroke="#1428f0" stroke-width="0.25">1 nM DA</text>
<text x="79" y="318" font-family="'Liberation Serif', 'Times New Roman', serif" font-size="7.2" font-weight="bold" fill="#1428f0" text-anchor="start" textLength="33" lengthAdjust="spacingAndGlyphs" stroke="#1428f0" stroke-width="0.25">10 nM DA</text>
<text x="99" y="342" font-family="'Liberation Serif', 'Times New Roman', serif" font-size="7.2" font-weight="bold" fill="#1428f0" text-anchor="start" textLength="33" lengthAdjust="spacingAndGlyphs" stroke="#1428f0" stroke-width="0.25">50 nM DA</text>
<text x="133" y="345" font-family="'Liberation Serif', 'Times New Roman', serif" font-size="7.2" font-weight="bold" fill="#1428f0" text-anchor="start" textLength="37" lengthAdjust="spacingAndGlyphs" stroke="#1428f0" stroke-width="0.25">100 nM DA</text>
<text x="152" y="355" font-family="'Liberation Serif', 'Times New Roman', serif" font-size="7.2" font-weight="bold" fill="#1428f0" text-anchor="start" textLength="37" lengthAdjust="spacingAndGlyphs" stroke="#1428f0" stroke-width="0.25">500 nM DA</text>
<text x="177" y="364" font-family="'Liberation Serif', 'Times New Roman', serif" font-size="7.2" font-weight="bold" fill="#1428f0" text-anchor="start" textLength="41" lengthAdjust="spacingAndGlyphs" stroke="#1428f0" stroke-width="0.25">1000 nM DA</text>
<line x1="113" y1="233" x2="105.92314600746738" y2="236.931585551407" stroke="#333" stroke-width="0.6" />
<polygon points="104,238 105.44,236.06 106.41,237.81" fill="#333"/>
<line x1="131" y1="240" x2="124.86559626881119" y2="243.834002331993" stroke="#333" stroke-width="0.6" />
<polygon points="123,245 124.34,242.99 125.40,244.68" fill="#333"/>
<line x1="154" y1="250" x2="149.43174102160313" y2="255.32963547479633" stroke="#333" stroke-width="0.6" />
<polygon points="148,257 148.67,254.68 150.19,255.98" fill="#333"/>
<line x1="176" y1="258" x2="167.8864844365676" y2="262.86810933805947" stroke="#333" stroke-width="0.6" />
<polygon points="166,264 167.37,262.01 168.40,263.73" fill="#333"/>
<line x1="178" y1="309" x2="182.568544502696" y2="286.15727748652" stroke="#333" stroke-width="0.6" />
<polygon points="183,284 183.55,286.35 181.59,285.96" fill="#333"/>
<line x1="195" y1="321" x2="200.87663848976172" y2="301.1098389577296" stroke="#333" stroke-width="0.6" />
<polygon points="201.5,299 201.84,301.39 199.92,300.83" fill="#333"/>
<line x1="100" y1="260" x2="102.22752842850554" y2="254.05992419065188" stroke="#f01010" stroke-width="0.6" />
<polygon points="103,252 103.16,254.41 101.29,253.71" fill="#f01010"/>
<line x1="115" y1="267" x2="117.36783465175404" y2="259.1072178274865" stroke="#f01010" stroke-width="0.6" />
<polygon points="118,257 118.33,259.39 116.41,258.82" fill="#f01010"/>
<line x1="140" y1="280" x2="141.76969347406032" y2="263.1879119964271" stroke="#f01010" stroke-width="0.6" />
<polygon points="142,261 142.76,263.29 140.78,263.08" fill="#f01010"/>
<line x1="158" y1="288" x2="160.65688233835937" y2="271.173078523724" stroke="#f01010" stroke-width="0.6" />
<polygon points="161,269 161.64,271.33 159.67,271.02" fill="#f01010"/>
<line x1="201" y1="268" x2="189.02211906603972" y2="273.13337754312585" stroke="#f01010" stroke-width="0.6" />
<polygon points="187,274 188.63,272.21 189.42,274.05" fill="#f01010"/>
<line x1="220" y1="274" x2="209.76" y2="281.68" stroke="#f01010" stroke-width="0.6" />
<polygon points="208,283 209.16,280.88 210.36,282.48" fill="#f01010"/>
<line x1="86" y1="290" x2="97.50300758139198" y2="277.6121456815779" stroke="#1428f0" stroke-width="0.6" />
<polygon points="99,276 98.24,278.29 96.77,276.93" fill="#1428f0"/>
<line x1="104" y1="312" x2="115.38343242181952" y2="301.4922162260128" stroke="#1428f0" stroke-width="0.6" />
<polygon points="117,300 116.06,302.23 114.71,300.76" fill="#1428f0"/>
<line x1="122" y1="336" x2="136.1871077667614" y2="326.24636341035153" stroke="#1428f0" stroke-width="0.6" />
<polygon points="138,325 136.75,327.07 135.62,325.42" fill="#1428f0"/>
<line x1="150" y1="339" x2="160.24" y2="331.32" stroke="#1428f0" stroke-width="0.6" />
<polygon points="162,330 160.84,332.12 159.64,330.52" fill="#1428f0"/>
<line x1="165" y1="348" x2="179.082533818326" y2="340.0785747271916" stroke="#1428f0" stroke-width="0.6" />
<polygon points="181,339 179.57,340.95 178.59,339.21" fill="#1428f0"/>
<line x1="190" y1="358" x2="205.00939885515783" y2="350.93675347992576" stroke="#1428f0" stroke-width="0.6" />
<polygon points="207,350 205.44,351.84 204.58,350.03" fill="#1428f0"/>
<rect x="330" y="222.2" width="197" height="147.0" fill="none" stroke="#222" stroke-width="1.2"/>
<line x1="347.0" y1="369.2" x2="347.0" y2="366.2" stroke="#222" stroke-width="1.2" />
<line x1="383.0" y1="369.2" x2="383.0" y2="366.2" stroke="#222" stroke-width="1.2" />
<line x1="419.0" y1="369.2" x2="419.0" y2="366.2" stroke="#222" stroke-width="1.2" />
<line x1="455.0" y1="369.2" x2="455.0" y2="366.2" stroke="#222" stroke-width="1.2" />
<line x1="491.0" y1="369.2" x2="491.0" y2="366.2" stroke="#222" stroke-width="1.2" />
<line x1="330" y1="339.8" x2="333" y2="339.8" stroke="#222" stroke-width="1.2" />
<line x1="330" y1="310.4" x2="333" y2="310.4" stroke="#222" stroke-width="1.2" />
<line x1="330" y1="281.0" x2="333" y2="281.0" stroke="#222" stroke-width="1.2" />
<line x1="330" y1="251.6" x2="333" y2="251.6" stroke="#222" stroke-width="1.2" />
<line x1="365.0" y1="369.2" x2="365.0" y2="367.4" stroke="#222" stroke-width="0.96" />
<line x1="401.0" y1="369.2" x2="401.0" y2="367.4" stroke="#222" stroke-width="0.96" />
<line x1="437.0" y1="369.2" x2="437.0" y2="367.4" stroke="#222" stroke-width="0.96" />
<line x1="473.0" y1="369.2" x2="473.0" y2="367.4" stroke="#222" stroke-width="0.96" />
<line x1="509.0" y1="369.2" x2="509.0" y2="367.4" stroke="#222" stroke-width="0.96" />
<line x1="330" y1="354.5" x2="331.8" y2="354.5" stroke="#222" stroke-width="0.96" />
<line x1="330" y1="325.09999999999997" x2="331.8" y2="325.09999999999997" stroke="#222" stroke-width="0.96" />
<line x1="330" y1="295.7" x2="331.8" y2="295.7" stroke="#222" stroke-width="0.96" />
<line x1="330" y1="266.29999999999995" x2="331.8" y2="266.29999999999995" stroke="#222" stroke-width="0.96" />
<line x1="330" y1="236.89999999999998" x2="331.8" y2="236.89999999999998" stroke="#222" stroke-width="0.96" />
<text x="326.5" y="372.0" font-family="'Liberation Sans', Arial, sans-serif" font-size="8" font-weight="bold" fill="#222" text-anchor="end"  stroke="#222" stroke-width="0.2">2</text>
<text x="326.5" y="342.6" font-family="'Liberation Sans', Arial, sans-serif" font-size="8" font-weight="bold" fill="#222" text-anchor="end"  stroke="#222" stroke-width="0.2">4</text>
<text x="326.5" y="313.2" font-family="'Liberation Sans', Arial, sans-serif" font-size="8" font-weight="bold" fill="#222" text-anchor="end"  stroke="#222" stroke-width="0.2">6</text>
<text x="326.5" y="283.8" font-family="'Liberation Sans', Arial, sans-serif" font-size="8" font-weight="bold" fill="#222" text-anchor="end"  stroke="#222" stroke-width="0.2">8</text>
<text x="326.5" y="254.4" font-family="'Liberation Sans', Arial, sans-serif" font-size="8" font-weight="bold" fill="#222" text-anchor="end"  stroke="#222" stroke-width="0.2">10</text>
<text x="326.5" y="225.0" font-family="'Liberation Sans', Arial, sans-serif" font-size="8" font-weight="bold" fill="#222" text-anchor="end"  stroke="#222" stroke-width="0.2">12</text>
<text x="347.0" y="379" font-family="'Liberation Sans', Arial, sans-serif" font-size="7.5" font-weight="bold" fill="#222" text-anchor="middle"  stroke="#222" stroke-width="0.2">200</text>
<text x="383.0" y="379" font-family="'Liberation Sans', Arial, sans-serif" font-size="7.5" font-weight="bold" fill="#222" text-anchor="middle"  stroke="#222" stroke-width="0.2">400</text>
<text x="419.0" y="379" font-family="'Liberation Sans', Arial, sans-serif" font-size="7.5" font-weight="bold" fill="#222" text-anchor="middle"  stroke="#222" stroke-width="0.2">600</text>
<text x="455.0" y="379" font-family="'Liberation Sans', Arial, sans-serif" font-size="7.5" font-weight="bold" fill="#222" text-anchor="middle"  stroke="#222" stroke-width="0.2">800</text>
<text x="491.0" y="379" font-family="'Liberation Sans', Arial, sans-serif" font-size="7.5" font-weight="bold" fill="#222" text-anchor="middle"  stroke="#222" stroke-width="0.2">1000</text>
<text x="527.0" y="379" font-family="'Liberation Sans', Arial, sans-serif" font-size="7.5" font-weight="bold" fill="#222" text-anchor="middle"  stroke="#222" stroke-width="0.2">1200</text>
<text x="408.8" y="391.7" font-family="'Liberation Serif', 'Times New Roman', serif" font-size="12.2" font-weight="bold" fill="#000" text-anchor="start" textLength="39.6" lengthAdjust="spacingAndGlyphs" stroke="#000" stroke-width="0.3">Time (s)</text>
<text transform="translate(305.3,303.2) rotate(-90) scale(1,1.22)" x="0" y="0" text-anchor="middle" dominant-baseline="central" font-family="'Liberation Serif', 'Times New Roman', serif" font-size="11.1" font-weight="bold" fill="#000" stroke="#000" stroke-width="0.3" textLength="44.4" lengthAdjust="spacingAndGlyphs">|I<tspan font-size="6.659999999999999" dy="2.775">ds</tspan><tspan dy="-2.775">|</tspan> (mA)</text>
<rect x="471" y="225.8" width="53" height="10.2" fill="#fff" stroke="#444" stroke-width="0.7"/>
<line x1="475.3" y1="231.4" x2="492.5" y2="231.4" stroke="#000" stroke-width="1.4" />
<text x="492.8" y="234.3" font-family="'Liberation Serif', 'Times New Roman', serif" font-size="7.8" font-weight="bold" fill="#111" text-anchor="start" textLength="29.7" lengthAdjust="spacingAndGlyphs" stroke="#111" stroke-width="0.3">Vg=0.5V</text>
<polyline points="346,282 356,283.5 366,285.6 367,287 376,288.6 386,291 387,292.5 396,295.5 406,299 416,300.5 426,302 442,302.6 458,303 475,304 475.6,306.4 477,307.6 481,309 490,312 497.5,314.6" fill="none" stroke="#111" stroke-width="1.3" stroke-linejoin="round" stroke-linecap="round" />
<rect x="406" y="297.3" width="70" height="8" fill="none" stroke="#f01818" stroke-width="1" stroke-dasharray="3.2,2.2"/>
<text x="350" y="258.5" font-family="'Liberation Serif', 'Times New Roman', serif" font-size="7.8" font-weight="bold" fill="#111" text-anchor="start" textLength="27" lengthAdjust="spacingAndGlyphs" stroke="#111" stroke-width="0.25">1nM DA</text>
<text x="371" y="264.8" font-family="'Liberation Serif', 'Times New Roman', serif" font-size="7.8" font-weight="bold" fill="#111" text-anchor="start" textLength="31" lengthAdjust="spacingAndGlyphs" stroke="#111" stroke-width="0.25">10nM DA</text>
<text x="391" y="272.3" font-family="'Liberation Serif', 'Times New Roman', serif" font-size="7.8" font-weight="bold" fill="#111" text-anchor="start" textLength="33" lengthAdjust="spacingAndGlyphs" stroke="#111" stroke-width="0.25">1nM NaCl</text>
<text x="410" y="280" font-family="'Liberation Serif', 'Times New Roman', serif" font-size="7.8" font-weight="bold" fill="#111" text-anchor="start" textLength="42" lengthAdjust="spacingAndGlyphs" stroke="#111" stroke-width="0.25">1uM Glucose</text>
<text x="432" y="285.3" font-family="'Liberation Serif', 'Times New Roman', serif" font-size="7.8" font-weight="bold" fill="#111" text-anchor="start" textLength="22" lengthAdjust="spacingAndGlyphs" stroke="#111" stroke-width="0.25">1uM AA</text>
<text x="449" y="291.3" font-family="'Liberation Serif', 'Times New Roman', serif" font-size="7.8" font-weight="bold" fill="#111" text-anchor="start" textLength="27" lengthAdjust="spacingAndGlyphs" stroke="#111" stroke-width="0.25">1uM UA</text>
<text x="469" y="284.3" font-family="'Liberation Serif', 'Times New Roman', serif" font-size="7.8" font-weight="bold" fill="#111" text-anchor="start" textLength="30" lengthAdjust="spacingAndGlyphs" stroke="#111" stroke-width="0.25">10nM DA</text>
<line x1="366.4" y1="266" x2="366.4" y2="282.6" stroke="#222" stroke-width="0.6" />
<polygon points="366.4,285 365.30,282.60 367.50,282.60" fill="#222"/>
<line x1="386" y1="272" x2="386.0" y2="287.6" stroke="#222" stroke-width="0.6" />
<polygon points="386,290 384.90,287.60 387.10,287.60" fill="#222"/>
<line x1="407" y1="279" x2="407.0" y2="296.1" stroke="#222" stroke-width="0.6" />
<polygon points="407,298.5 405.90,296.10 408.10,296.10" fill="#222"/>
<line x1="427" y1="283" x2="427.0" y2="298.6" stroke="#222" stroke-width="0.6" />
<polygon points="427,301 425.90,298.60 428.10,298.60" fill="#222"/>
<line x1="442" y1="288" x2="442.0" y2="299.1" stroke="#222" stroke-width="0.6" />
<polygon points="442,301.5 440.90,299.10 443.10,299.10" fill="#222"/>
<line x1="458" y1="293" x2="458.0" y2="300.1" stroke="#222" stroke-width="0.6" />
<polygon points="458,302.5 456.90,300.10 459.10,300.10" fill="#222"/>
<line x1="475.6" y1="287" x2="475.6" y2="301.1" stroke="#222" stroke-width="0.6" />
<polygon points="475.6,303.5 474.50,301.10 476.70,301.10" fill="#222"/>
<rect x="350" y="305.9" width="76.60000000000002" height="55.400000000000034" fill="#fff" stroke="#555" stroke-width="0.8"/>
<line x1="350" y1="360.5" x2="351.5" y2="360.5" stroke="#555" stroke-width="0.5" />
<text x="347.6" y="362.6" font-family="'Liberation Sans', Arial, sans-serif" font-size="5.2" font-weight="bold" fill="#333" text-anchor="end" >0.0</text>
<line x1="350" y1="353.1" x2="351.5" y2="353.1" stroke="#555" stroke-width="0.5" />
<text x="347.6" y="355.20000000000005" font-family="'Liberation Sans', Arial, sans-serif" font-size="5.2" font-weight="bold" fill="#333" text-anchor="end" >0.1</text>
<line x1="350" y1="345.7" x2="351.5" y2="345.7" stroke="#555" stroke-width="0.5" />
<text x="347.6" y="347.8" font-family="'Liberation Sans', Arial, sans-serif" font-size="5.2" font-weight="bold" fill="#333" text-anchor="end" >0.2</text>
<line x1="350" y1="338.3" x2="351.5" y2="338.3" stroke="#555" stroke-width="0.5" />
<text x="347.6" y="340.40000000000003" font-family="'Liberation Sans', Arial, sans-serif" font-size="5.2" font-weight="bold" fill="#333" text-anchor="end" >0.3</text>
<line x1="350" y1="330.9" x2="351.5" y2="330.9" stroke="#555" stroke-width="0.5" />
<text x="347.6" y="333.0" font-family="'Liberation Sans', Arial, sans-serif" font-size="5.2" font-weight="bold" fill="#333" text-anchor="end" >0.4</text>
<line x1="350" y1="323.5" x2="351.5" y2="323.5" stroke="#555" stroke-width="0.5" />
<text x="347.6" y="325.6" font-family="'Liberation Sans', Arial, sans-serif" font-size="5.2" font-weight="bold" fill="#333" text-anchor="end" >0.5</text>
<line x1="350" y1="316.1" x2="351.5" y2="316.1" stroke="#555" stroke-width="0.5" />
<text x="347.6" y="318.20000000000005" font-family="'Liberation Sans', Arial, sans-serif" font-size="5.2" font-weight="bold" fill="#333" text-anchor="end" >0.6</text>
<line x1="350" y1="308.7" x2="351.5" y2="308.7" stroke="#555" stroke-width="0.5" />
<text x="347.6" y="310.8" font-family="'Liberation Sans', Arial, sans-serif" font-size="5.2" font-weight="bold" fill="#333" text-anchor="end" >0.7</text>
<rect x="351.8" y="335.34" width="7.199999999999989" height="25.16" fill="#f5157c"/>
<rect x="362.4" y="313.14" width="7.100000000000023" height="47.36" fill="#f5157c"/>
<rect x="373" y="354.58" width="7" height="5.92" fill="#1a10e0"/>
<rect x="383.6" y="355.32" width="7.399999999999977" height="5.18" fill="#18e018"/>
<rect x="394.5" y="356.80" width="7.300000000000011" height="3.70" fill="#18f0f0"/>
<rect x="405" y="352.36" width="7.399999999999977" height="8.14" fill="#9018f0"/>
<rect x="416" y="312.40" width="6.699999999999989" height="48.10" fill="#f5157c"/>
<text x="351" y="331.4" font-family="'Liberation Serif', 'Times New Roman', serif" font-size="3.6" font-weight="normal" fill="#222" text-anchor="start" textLength="16" lengthAdjust="spacingAndGlyphs">Dopamine</text>
<text x="353.6" y="334.2" font-family="'Liberation Serif', 'Times New Roman', serif" font-size="3.6" font-weight="normal" fill="#222" text-anchor="start" textLength="6.4" lengthAdjust="spacingAndGlyphs">1nM</text>
<text x="357" y="308.7" font-family="'Liberation Serif', 'Times New Roman', serif" font-size="3.6" font-weight="normal" fill="#222" text-anchor="start" textLength="16.6" lengthAdjust="spacingAndGlyphs">Dopamine</text>
<text x="362.7" y="312.8" font-family="'Liberation Serif', 'Times New Roman', serif" font-size="3.6" font-weight="normal" fill="#222" text-anchor="start" textLength="6.3" lengthAdjust="spacingAndGlyphs">10nM</text>
<text x="371" y="349.5" font-family="'Liberation Serif', 'Times New Roman', serif" font-size="3.6" font-weight="normal" fill="#222" text-anchor="start" textLength="7" lengthAdjust="spacingAndGlyphs">NaCl</text>
<text x="372" y="354.2" font-family="'Liberation Serif', 'Times New Roman', serif" font-size="3.6" font-weight="normal" fill="#222" text-anchor="start" textLength="6" lengthAdjust="spacingAndGlyphs">1nM</text>
<text x="380.4" y="350.5" font-family="'Liberation Serif', 'Times New Roman', serif" font-size="3.6" font-weight="normal" fill="#222" text-anchor="start" textLength="11.4" lengthAdjust="spacingAndGlyphs">Glucose</text>
<text x="383.6" y="355.1" font-family="'Liberation Serif', 'Times New Roman', serif" font-size="3.6" font-weight="normal" fill="#222" text-anchor="start" textLength="6.4" lengthAdjust="spacingAndGlyphs">1nM</text>
<text x="395.5" y="351.4" font-family="'Liberation Serif', 'Times New Roman', serif" font-size="3.6" font-weight="normal" fill="#222" text-anchor="start" textLength="3.4" lengthAdjust="spacingAndGlyphs">AA</text>
<text x="395.5" y="356.1" font-family="'Liberation Serif', 'Times New Roman', serif" font-size="3.6" font-weight="normal" fill="#222" text-anchor="start" textLength="7.2" lengthAdjust="spacingAndGlyphs">1nM</text>
<text x="404.5" y="347.7" font-family="'Liberation Serif', 'Times New Roman', serif" font-size="3.6" font-weight="normal" fill="#222" text-anchor="start" textLength="4.5" lengthAdjust="spacingAndGlyphs">UA</text>
<text x="405.5" y="351.5" font-family="'Liberation Serif', 'Times New Roman', serif" font-size="3.6" font-weight="normal" fill="#222" text-anchor="start" textLength="6.3" lengthAdjust="spacingAndGlyphs">1nM</text>
<text x="409" y="308.7" font-family="'Liberation Serif', 'Times New Roman', serif" font-size="3.6" font-weight="normal" fill="#222" text-anchor="start" textLength="16.5" lengthAdjust="spacingAndGlyphs">Dopamine</text>
<text x="411.8" y="312.8" font-family="'Liberation Serif', 'Times New Roman', serif" font-size="3.6" font-weight="normal" fill="#222" text-anchor="start" textLength="8.2" lengthAdjust="spacingAndGlyphs">10nM</text>
<text x="368" y="367.9" font-family="'Liberation Serif', 'Times New Roman', serif" font-size="6.4" font-weight="bold" fill="#111" text-anchor="start" textLength="38" lengthAdjust="spacingAndGlyphs">Interferents</text>
<line x1="449" y1="305" x2="422.5" y2="325.6" stroke="#f01818" stroke-width="1.1" stroke-dasharray="3.2,2.2"/>
<text transform="translate(338.2,334.6) rotate(-90)" text-anchor="middle" font-family="'Liberation Serif', 'Times New Roman', serif" font-size="5.6" font-weight="bold" fill="#222" textLength="22" lengthAdjust="spacingAndGlyphs"><tspan font-size="7.5">&#916;</tspan>I (mA)</text>
<rect x="50.4" y="533.3" width="214.1" height="172.20000000000005" fill="none" stroke="#1a1a1a" stroke-width="1.5"/>
<line x1="70.0" y1="705.5" x2="70.0" y2="702.1" stroke="#1a1a1a" stroke-width="1.5" />
<line x1="108.85" y1="705.5" x2="108.85" y2="702.1" stroke="#1a1a1a" stroke-width="1.5" />
<line x1="147.7" y1="705.5" x2="147.7" y2="702.1" stroke="#1a1a1a" stroke-width="1.5" />
<line x1="186.55" y1="705.5" x2="186.55" y2="702.1" stroke="#1a1a1a" stroke-width="1.5" />
<line x1="225.4" y1="705.5" x2="225.4" y2="702.1" stroke="#1a1a1a" stroke-width="1.5" />
<line x1="50.4" y1="674.0" x2="53.8" y2="674.0" stroke="#1a1a1a" stroke-width="1.5" />
<line x1="50.4" y1="642.6999999999999" x2="53.8" y2="642.6999999999999" stroke="#1a1a1a" stroke-width="1.5" />
<line x1="50.4" y1="611.4" x2="53.8" y2="611.4" stroke="#1a1a1a" stroke-width="1.5" />
<line x1="50.4" y1="580.0999999999999" x2="53.8" y2="580.0999999999999" stroke="#1a1a1a" stroke-width="1.5" />
<line x1="50.4" y1="548.8" x2="53.8" y2="548.8" stroke="#1a1a1a" stroke-width="1.5" />
<text x="47.3" y="708.6999999999999" font-family="'Liberation Serif', 'Times New Roman', serif" font-size="10.4" font-weight="bold" fill="#111" text-anchor="end"  stroke="#111" stroke-width="0.35">0</text>
<text x="47.3" y="677.4" font-family="'Liberation Serif', 'Times New Roman', serif" font-size="10.4" font-weight="bold" fill="#111" text-anchor="end"  stroke="#111" stroke-width="0.35">1</text>
<text x="47.3" y="646.0999999999999" font-family="'Liberation Serif', 'Times New Roman', serif" font-size="10.4" font-weight="bold" fill="#111" text-anchor="end"  stroke="#111" stroke-width="0.35">2</text>
<text x="47.3" y="614.8" font-family="'Liberation Serif', 'Times New Roman', serif" font-size="10.4" font-weight="bold" fill="#111" text-anchor="end"  stroke="#111" stroke-width="0.35">3</text>
<text x="47.3" y="583.4999999999999" font-family="'Liberation Serif', 'Times New Roman', serif" font-size="10.4" font-weight="bold" fill="#111" text-anchor="end"  stroke="#111" stroke-width="0.35">4</text>
<text x="47.3" y="552.1999999999999" font-family="'Liberation Serif', 'Times New Roman', serif" font-size="10.4" font-weight="bold" fill="#111" text-anchor="end"  stroke="#111" stroke-width="0.35">5</text>
<text x="70.0" y="718" font-family="'Liberation Serif', 'Times New Roman', serif" font-size="10.4" font-weight="bold" fill="#111" text-anchor="middle"  stroke="#111" stroke-width="0.35">0</text>
<text x="108.85" y="718" font-family="'Liberation Serif', 'Times New Roman', serif" font-size="10.4" font-weight="bold" fill="#111" text-anchor="middle"  stroke="#111" stroke-width="0.35">500</text>
<text x="147.7" y="718" font-family="'Liberation Serif', 'Times New Roman', serif" font-size="10.4" font-weight="bold" fill="#111" text-anchor="middle"  stroke="#111" stroke-width="0.35">1000</text>
<text x="186.55" y="718" font-family="'Liberation Serif', 'Times New Roman', serif" font-size="10.4" font-weight="bold" fill="#111" text-anchor="middle"  stroke="#111" stroke-width="0.35">1500</text>
<text x="225.4" y="718" font-family="'Liberation Serif', 'Times New Roman', serif" font-size="10.4" font-weight="bold" fill="#111" text-anchor="middle"  stroke="#111" stroke-width="0.35">2000</text>
<text x="264.25" y="718" font-family="'Liberation Serif', 'Times New Roman', serif" font-size="10.4" font-weight="bold" fill="#111" text-anchor="middle"  stroke="#111" stroke-width="0.35">2500</text>
<text x="133.8" y="734" font-family="'Liberation Serif', 'Times New Roman', serif" font-size="14.3" font-weight="bold" fill="#000" text-anchor="start" textLength="50.2" lengthAdjust="spacingAndGlyphs" stroke="#000" stroke-width="0.3">Time (s)</text>
<text transform="translate(30.5,614.5) rotate(-90) scale(1,0.95)" x="0" y="0" text-anchor="middle" dominant-baseline="central" font-family="'Liberation Serif', 'Times New Roman', serif" font-size="14" font-weight="bold" fill="#000" stroke="#000" stroke-width="0.3" textLength="60" lengthAdjust="spacingAndGlyphs">|I<tspan font-size="8.4" dy="3.5">ds</tspan><tspan dy="-3.5">|</tspan> (mA)</text>
<line x1="25.4" y1="618" x2="25.4" y2="712" stroke="#dde8ee" stroke-width="0.8" />
<polyline points="70,579.4 85,581 85.6,585.6 108,589 108.4,595 130,597.6 131.6,604 148,609.6 149,617 160,619 174,621 174.4,628 190,632 191,638.6 210,641.6 210.4,647 230,649.6 232,652 233,662 236,670 240,676" fill="none" stroke="#1444d4" stroke-width="1.9" stroke-linejoin="round" stroke-linecap="round" />
<text x="73" y="567" font-family="'Liberation Serif', 'Times New Roman', serif" font-size="7.4" font-weight="bold" fill="#111" text-anchor="start" textLength="26" lengthAdjust="spacingAndGlyphs" stroke="#111" stroke-width="0.25">1nM UA</text>
<text x="104" y="573" font-family="'Liberation Serif', 'Times New Roman', serif" font-size="7.4" font-weight="bold" fill="#111" text-anchor="start" textLength="30" lengthAdjust="spacingAndGlyphs" stroke="#111" stroke-width="0.25">10nM UA</text>
<text x="127" y="585.6" font-family="'Liberation Serif', 'Times New Roman', serif" font-size="7.4" font-weight="bold" fill="#111" text-anchor="start" textLength="33" lengthAdjust="spacingAndGlyphs" stroke="#111" stroke-width="0.25">100nM UA</text>
<text x="145.6" y="599.2" font-family="'Liberation Serif', 'Times New Roman', serif" font-size="7.4" font-weight="bold" fill="#111" text-anchor="start" textLength="34" lengthAdjust="spacingAndGlyphs" stroke="#111" stroke-width="0.25">500nM UA</text>
<text x="168.5" y="611" font-family="'Liberation Serif', 'Times New Roman', serif" font-size="7.4" font-weight="bold" fill="#111" text-anchor="start" textLength="27.5" lengthAdjust="spacingAndGlyphs" stroke="#111" stroke-width="0.25">1&#956;M UA</text>
<text x="187" y="621.6" font-family="'Liberation Serif', 'Times New Roman', serif" font-size="7.4" font-weight="bold" fill="#111" text-anchor="start" textLength="30.6" lengthAdjust="spacingAndGlyphs" stroke="#111" stroke-width="0.25">50&#956;M UA</text>
<text x="206" y="630.5" font-family="'Liberation Serif', 'Times New Roman', serif" font-size="7.4" font-weight="bold" fill="#111" text-anchor="start" textLength="33" lengthAdjust="spacingAndGlyphs" stroke="#111" stroke-width="0.25">100&#956;M UA</text>
<text x="226.5" y="638" font-family="'Liberation Serif', 'Times New Roman', serif" font-size="7.4" font-weight="bold" fill="#111" text-anchor="start" textLength="34.5" lengthAdjust="spacingAndGlyphs" stroke="#111" stroke-width="0.25">500&#956;M UA</text>
<line x1="89" y1="573.6" x2="85.29477845193666" y2="576.5641772384507" stroke="#0a0a0a" stroke-width="1.4" />
<polygon points="81.00,580.00 82.08,576.06 85.16,575.60 86.21,576.91 85.08,579.81" fill="#0a0a0a"/>
<line x1="113" y1="578" x2="111.38604223084775" y2="580.0658659445148" stroke="#0a0a0a" stroke-width="1.4" />
<polygon points="108.00,584.40 108.14,580.32 111.03,579.15 112.36,580.19 111.92,583.28" fill="#0a0a0a"/>
<line x1="134.4" y1="589" x2="132.92694349870092" y2="591.3434989793395" stroke="#0a0a0a" stroke-width="1.4" />
<polygon points="130.00,596.00 129.72,591.93 132.48,590.47 133.90,591.37 133.79,594.48" fill="#0a0a0a"/>
<line x1="152" y1="603" x2="150.8506594385134" y2="604.896411926453" stroke="#0a0a0a" stroke-width="1.4" />
<polygon points="148.00,609.60 147.66,605.53 150.39,604.03 151.83,604.90 151.76,608.02" fill="#0a0a0a"/>
<line x1="178" y1="613.6" x2="176.9149941700175" y2="615.3360093279721" stroke="#0a0a0a" stroke-width="1.4" />
<polygon points="174.00,620.00 173.71,615.93 176.47,614.47 177.89,615.36 177.78,618.47" fill="#0a0a0a"/>
<line x1="194" y1="623" x2="193.4596747752498" y2="624.0806504495005" stroke="#0a0a0a" stroke-width="1.4" />
<polygon points="191.00,629.00 190.33,624.98 192.93,623.26 194.43,624.01 194.62,627.12" fill="#0a0a0a"/>
<line x1="214" y1="634.4" x2="212.8506594385134" y2="636.296411926453" stroke="#0a0a0a" stroke-width="1.4" />
<polygon points="210.00,641.00 209.66,636.93 212.39,635.43 213.83,636.30 213.76,639.42" fill="#0a0a0a"/>
<line x1="238" y1="641" x2="235.47553409163706" y2="642.803189934545" stroke="#0a0a0a" stroke-width="1.4" />
<polygon points="231.00,646.00 232.29,642.13 235.39,641.83 236.37,643.20 235.08,646.03" fill="#0a0a0a"/>
<rect x="333.6" y="537.6" width="210.0" height="168.39999999999998" fill="none" stroke="#1a1a1a" stroke-width="1.5"/>
<line x1="348.6" y1="706" x2="348.6" y2="702.6" stroke="#1a1a1a" stroke-width="1.5" />
<line x1="378.45000000000005" y1="706" x2="378.45000000000005" y2="702.6" stroke="#1a1a1a" stroke-width="1.5" />
<line x1="408.3" y1="706" x2="408.3" y2="702.6" stroke="#1a1a1a" stroke-width="1.5" />
<line x1="438.15000000000003" y1="706" x2="438.15000000000003" y2="702.6" stroke="#1a1a1a" stroke-width="1.5" />
<line x1="468.0" y1="706" x2="468.0" y2="702.6" stroke="#1a1a1a" stroke-width="1.5" />
<line x1="497.85" y1="706" x2="497.85" y2="702.6" stroke="#1a1a1a" stroke-width="1.5" />
<line x1="527.7" y1="706" x2="527.7" y2="702.6" stroke="#1a1a1a" stroke-width="1.5" />
<line x1="333.6" y1="681.95" x2="337.0" y2="681.95" stroke="#1a1a1a" stroke-width="1.5" />
<line x1="333.6" y1="657.9" x2="337.0" y2="657.9" stroke="#1a1a1a" stroke-width="1.5" />
<line x1="333.6" y1="633.85" x2="337.0" y2="633.85" stroke="#1a1a1a" stroke-width="1.5" />
<line x1="333.6" y1="609.8" x2="337.0" y2="609.8" stroke="#1a1a1a" stroke-width="1.5" />
<line x1="333.6" y1="585.75" x2="337.0" y2="585.75" stroke="#1a1a1a" stroke-width="1.5" />
<line x1="333.6" y1="561.7" x2="337.0" y2="561.7" stroke="#1a1a1a" stroke-width="1.5" />
<text x="329.8" y="710.2" font-family="'Liberation Serif', 'Times New Roman', serif" font-size="10.4" font-weight="bold" fill="#111" text-anchor="end"  stroke="#111" stroke-width="0.35">1.5</text>
<text x="329.8" y="686.1500000000001" font-family="'Liberation Serif', 'Times New Roman', serif" font-size="10.4" font-weight="bold" fill="#111" text-anchor="end"  stroke="#111" stroke-width="0.35">2.0</text>
<text x="329.8" y="662.1" font-family="'Liberation Serif', 'Times New Roman', serif" font-size="10.4" font-weight="bold" fill="#111" text-anchor="end"  stroke="#111" stroke-width="0.35">2.5</text>
<text x="329.8" y="638.0500000000001" font-family="'Liberation Serif', 'Times New Roman', serif" font-size="10.4" font-weight="bold" fill="#111" text-anchor="end"  stroke="#111" stroke-width="0.35">3.0</text>
<text x="329.8" y="614.0" font-family="'Liberation Serif', 'Times New Roman', serif" font-size="10.4" font-weight="bold" fill="#111" text-anchor="end"  stroke="#111" stroke-width="0.35">3.5</text>
<text x="329.8" y="589.95" font-family="'Liberation Serif', 'Times New Roman', serif" font-size="10.4" font-weight="bold" fill="#111" text-anchor="end"  stroke="#111" stroke-width="0.35">4.0</text>
<text x="329.8" y="565.9000000000001" font-family="'Liberation Serif', 'Times New Roman', serif" font-size="10.4" font-weight="bold" fill="#111" text-anchor="end"  stroke="#111" stroke-width="0.35">4.5</text>
<text x="329.8" y="541.85" font-family="'Liberation Serif', 'Times New Roman', serif" font-size="10.4" font-weight="bold" fill="#111" text-anchor="end"  stroke="#111" stroke-width="0.35">5.0</text>
<text x="348.6" y="718.5" font-family="'Liberation Serif', 'Times New Roman', serif" font-size="10.4" font-weight="bold" fill="#111" text-anchor="middle"  stroke="#111" stroke-width="0.35">0</text>
<text x="378.45000000000005" y="718.5" font-family="'Liberation Serif', 'Times New Roman', serif" font-size="10.4" font-weight="bold" fill="#111" text-anchor="middle"  stroke="#111" stroke-width="0.35">500</text>
<text x="408.3" y="718.5" font-family="'Liberation Serif', 'Times New Roman', serif" font-size="10.4" font-weight="bold" fill="#111" text-anchor="middle"  stroke="#111" stroke-width="0.35">1000</text>
<text x="438.15000000000003" y="718.5" font-family="'Liberation Serif', 'Times New Roman', serif" font-size="10.4" font-weight="bold" fill="#111" text-anchor="middle"  stroke="#111" stroke-width="0.35">1500</text>
<text x="468.0" y="718.5" font-family="'Liberation Serif', 'Times New Roman', serif" font-size="10.4" font-weight="bold" fill="#111" text-anchor="middle"  stroke="#111" stroke-width="0.35">2000</text>
<text x="497.85" y="718.5" font-family="'Liberation Serif', 'Times New Roman', serif" font-size="10.4" font-weight="bold" fill="#111" text-anchor="middle"  stroke="#111" stroke-width="0.35">2500</text>
<text x="527.7" y="718.5" font-family="'Liberation Serif', 'Times New Roman', serif" font-size="10.4" font-weight="bold" fill="#111" text-anchor="middle"  stroke="#111" stroke-width="0.35">3000</text>
<text x="405" y="734" font-family="'Liberation Serif', 'Times New Roman', serif" font-size="14.3" font-weight="bold" fill="#000" text-anchor="start" textLength="50" lengthAdjust="spacingAndGlyphs" stroke="#000" stroke-width="0.3">Time (s)</text>
<text transform="translate(302.5,631.5) rotate(-90) scale(1,1.12)" x="0" y="0" text-anchor="middle" dominant-baseline="central" font-family="'Liberation Serif', 'Times New Roman', serif" font-size="14" font-weight="bold" fill="#000" stroke="#000" stroke-width="0.3" textLength="56" lengthAdjust="spacingAndGlyphs">|I<tspan font-size="8.4" dy="3.5">ds</tspan><tspan dy="-3.5">|</tspan> (mA)</text>
<polyline points="348,592 367,593 367.6,605 391,606.4 392.4,619 408,620 440,622 471,623.6 472,634.2 488,636 504.3,638 505,649.5 516,651.4 524,654 527.6,656.4" fill="none" stroke="#111" stroke-width="1.5" stroke-linejoin="round" stroke-linecap="round" />
<rect x="394" y="613" width="77" height="15.5" fill="none" stroke="#f01818" stroke-width="1.1" stroke-dasharray="2.6,1.8"/>
<text x="361" y="579" font-family="'Liberation Serif', 'Times New Roman', serif" font-size="7.4" font-weight="bold" fill="#111" text-anchor="start" textLength="28" lengthAdjust="spacingAndGlyphs" stroke="#111" stroke-width="0.25">1nM UA</text>
<text x="383" y="589" font-family="'Liberation Serif', 'Times New Roman', serif" font-size="7.4" font-weight="bold" fill="#111" text-anchor="start" textLength="33" lengthAdjust="spacingAndGlyphs" stroke="#111" stroke-width="0.25">10nM UA</text>
<text x="393" y="600" font-family="'Liberation Serif', 'Times New Roman', serif" font-size="7.4" font-weight="bold" fill="#111" text-anchor="start" textLength="30" lengthAdjust="spacingAndGlyphs" stroke="#111" stroke-width="0.25">1&#956;M Glu</text>
<text x="414" y="605" font-family="'Liberation Serif', 'Times New Roman', serif" font-size="7.4" font-weight="bold" fill="#111" text-anchor="start" textLength="27" lengthAdjust="spacingAndGlyphs" stroke="#111" stroke-width="0.25">1&#956;M AA</text>
<text x="434" y="600" font-family="'Liberation Serif', 'Times New Roman', serif" font-size="7.4" font-weight="bold" fill="#111" text-anchor="start" textLength="25" lengthAdjust="spacingAndGlyphs" stroke="#111" stroke-width="0.25">1&#956;M DA</text>
<text x="457" y="605" font-family="'Liberation Serif', 'Times New Roman', serif" font-size="7.4" font-weight="bold" fill="#111" text-anchor="start" textLength="31" lengthAdjust="spacingAndGlyphs" stroke="#111" stroke-width="0.25">1&#956;M Urea</text>
<text x="474" y="615" font-family="'Liberation Serif', 'Times New Roman', serif" font-size="7.4" font-weight="bold" fill="#111" text-anchor="start" textLength="28" lengthAdjust="spacingAndGlyphs" stroke="#111" stroke-width="0.25">1nM UA</text>
<text x="501" y="623" font-family="'Liberation Serif', 'Times New Roman', serif" font-size="7.4" font-weight="bold" fill="#111" text-anchor="start" textLength="31" lengthAdjust="spacingAndGlyphs" stroke="#111" stroke-width="0.25">10nM UA</text>
<line x1="369" y1="579.5" x2="367.8809650326708" y2="585.4448732639362" stroke="#111" stroke-width="0.6" />
<polygon points="367.4,588 366.70,585.22 369.06,585.67" fill="#111"/>
<line x1="390" y1="593" x2="390.4270505726382" y2="599.4057585895728" stroke="#111" stroke-width="0.6" />
<polygon points="390.6,602 389.23,599.49 391.62,599.33" fill="#111"/>
<line x1="411" y1="604" x2="407.71427493253316" y2="615.5000377361339" stroke="#111" stroke-width="0.6" />
<polygon points="407,618 406.56,615.17 408.87,615.83" fill="#111"/>
<line x1="425" y1="605" x2="423.85870966945464" y2="616.412903305454" stroke="#111" stroke-width="0.6" />
<polygon points="423.6,619 422.66,616.29 425.05,616.53" fill="#111"/>
<line x1="441" y1="601" x2="440.12983780405415" y2="618.4032439189176" stroke="#111" stroke-width="0.6" />
<polygon points="440,621 438.93,618.34 441.33,618.46" fill="#111"/>
<line x1="458" y1="605" x2="456.3110038947041" y2="619.0186676739562" stroke="#111" stroke-width="0.6" />
<polygon points="456,621.6 455.12,618.88 457.50,619.16" fill="#111"/>
<line x1="476" y1="615" x2="474.85508667026545" y2="621.4401374797567" stroke="#111" stroke-width="0.6" />
<polygon points="474.4,624 473.67,621.23 476.04,621.65" fill="#111"/>
<line x1="509" y1="625" x2="507.5640191903285" y2="631.4619136435217" stroke="#111" stroke-width="0.6" />
<polygon points="507,634 506.39,631.20 508.74,631.72" fill="#111"/>
<text x="22.5" y="12.8" font-family="'Liberation Sans', Arial, sans-serif" font-size="15" font-weight="bold" fill="#000" text-anchor="start" >a</text>
<text x="11.8" y="217.3" font-family="'Liberation Sans', Arial, sans-serif" font-size="15" font-weight="bold" fill="#000" text-anchor="start" >b</text>
<text x="281.5" y="214.3" font-family="'Liberation Sans', Arial, sans-serif" font-size="15" font-weight="bold" fill="#000" text-anchor="start" >c</text>
<text x="4.5" y="396.7" font-family="'Liberation Sans', Arial, sans-serif" font-size="15" font-weight="bold" fill="#000" text-anchor="start" >d</text>
<text x="4.5" y="538.5" font-family="'Liberation Sans', Arial, sans-serif" font-size="15" font-weight="bold" fill="#000" text-anchor="start" >e</text>
<text x="288.3" y="540" font-family="'Liberation Sans', Arial, sans-serif" font-size="15" font-weight="bold" fill="#000" text-anchor="start" >f</text>
</svg></body></html>
